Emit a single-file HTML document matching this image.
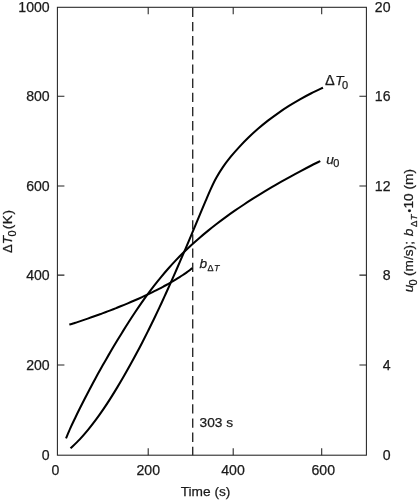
<!DOCTYPE html>
<html lang="en">
<head>
<meta charset="utf-8">
<title>Figure</title>
<style>
html,body{margin:0;padding:0;background:#fff;}
body{width:420px;height:500px;overflow:hidden;}
svg{display:block;}
text{font-family:"Liberation Sans",sans-serif;font-size:13.7px;fill:#1a1a1a;stroke:#1a1a1a;stroke-width:0.25;}
.i{font-style:italic;}
.tk{font-size:14.1px;}
.ax{stroke:#222;stroke-width:1.05;fill:none;}
.ds{stroke:#2b2b2b;stroke-width:1.4;fill:none;stroke-dasharray:9.3 4.86;stroke-dashoffset:-0.5;}
.cv{stroke:#000;stroke-width:2.05;fill:none;stroke-linecap:butt;stroke-linejoin:round;}
</style>
</head>
<body>
<svg width="420" height="500" viewBox="0 0 420 500">
<rect width="420" height="500" fill="#fff"/>
<rect class="ax" x="57.4" y="7.3" width="309.0" height="447.9"/>
<path class="ax" d="M57.4 365.0h7 M366.4 365.0h-7 M57.4 275.1h7 M366.4 275.1h-7 M57.4 186.0h7 M366.4 186.0h-7 M57.4 96.3h7 M366.4 96.3h-7 M148.2 455.2v-7 M148.2 7.3v7 M233.2 455.2v-7 M233.2 7.3v7 M321.7 455.2v-7 M321.7 7.3v7"/>
<path class="ds" d="M192.7 7.3V455.2"/>
<path class="cv" d="M69.30 324.60C69.93 324.43 71.82 323.93 73.06 323.56C74.30 323.18 75.50 322.75 76.72 322.35C77.94 321.94 79.16 321.53 80.38 321.12C81.60 320.71 82.82 320.29 84.04 319.87C85.27 319.45 86.49 319.03 87.71 318.61C88.93 318.18 90.15 317.75 91.38 317.32C92.60 316.89 93.82 316.46 95.04 316.02C96.26 315.58 97.48 315.14 98.70 314.70C99.92 314.25 101.15 313.81 102.36 313.35C103.58 312.90 104.80 312.45 106.02 311.99C107.24 311.53 108.45 311.07 109.67 310.60C110.89 310.14 112.10 309.67 113.31 309.20C114.53 308.72 115.74 308.25 116.95 307.77C118.16 307.28 119.37 306.80 120.57 306.31C121.78 305.82 122.99 305.33 124.19 304.84C125.39 304.34 126.59 303.84 127.79 303.34C128.99 302.83 130.19 302.32 131.38 301.81C132.58 301.30 133.77 300.78 134.96 300.26C136.15 299.74 137.34 299.22 138.52 298.69C139.71 298.16 140.89 297.62 142.07 297.09C143.25 296.55 144.42 296.01 145.60 295.46C146.77 294.91 147.94 294.36 149.11 293.81C150.27 293.25 151.44 292.69 152.59 292.12C153.75 291.56 154.91 290.99 156.06 290.41C157.21 289.83 158.36 289.25 159.51 288.66C160.65 288.06 161.79 287.47 162.93 286.86C164.07 286.26 165.20 285.64 166.33 285.02C167.46 284.40 168.58 283.77 169.70 283.13C170.82 282.50 171.93 281.85 173.04 281.19C174.15 280.54 175.26 279.87 176.36 279.19C177.46 278.52 178.55 277.83 179.64 277.13C180.73 276.44 181.82 275.73 182.90 275.01C183.98 274.29 185.05 273.56 186.12 272.81C187.19 272.07 188.28 271.34 189.31 270.54C190.34 269.74 191.80 268.42 192.30 268.00"/>
<path class="cv" d="M66.00 438.30C66.73 436.61 68.85 431.49 70.36 428.14C71.87 424.79 73.47 421.50 75.06 418.20C76.64 414.89 78.26 411.59 79.89 408.31C81.52 405.02 83.18 401.74 84.85 398.46C86.53 395.19 88.23 391.93 89.95 388.67C91.66 385.42 93.40 382.17 95.16 378.94C96.92 375.70 98.70 372.48 100.50 369.26C102.30 366.04 104.12 362.84 105.96 359.64C107.79 356.44 109.65 353.25 111.53 350.08C113.40 346.90 115.29 343.74 117.21 340.58C119.12 337.43 121.04 334.28 122.99 331.15C124.94 328.02 126.90 324.90 128.90 321.79C130.89 318.69 132.90 315.61 134.94 312.55C136.98 309.48 139.05 306.44 141.15 303.42C143.25 300.41 145.38 297.42 147.55 294.46C149.72 291.50 151.92 288.57 154.17 285.67C156.41 282.77 158.69 279.91 161.02 277.09C163.34 274.26 165.71 271.48 168.13 268.73C170.55 265.99 173.01 263.29 175.53 260.63C178.04 257.98 180.61 255.37 183.22 252.80C185.83 250.24 188.49 247.72 191.19 245.23C193.89 242.75 196.63 240.32 199.41 237.92C202.19 235.52 205.02 233.16 207.87 230.84C210.73 228.52 213.62 226.24 216.54 224.00C219.47 221.75 222.42 219.55 225.40 217.37C228.39 215.20 231.40 213.06 234.43 210.96C237.47 208.86 240.53 206.79 243.61 204.75C246.68 202.71 249.79 200.70 252.90 198.73C256.02 196.75 259.16 194.80 262.30 192.88C265.45 190.97 268.61 189.08 271.79 187.21C274.96 185.35 278.15 183.51 281.34 181.70C284.54 179.89 287.75 178.10 290.97 176.34C294.19 174.57 297.42 172.84 300.66 171.12C303.89 169.40 307.13 167.69 310.40 166.02C313.67 164.35 318.65 161.92 320.30 161.10"/>
<path class="cv" d="M70.50 448.30C72.04 446.81 76.79 442.45 79.74 439.34C82.69 436.24 85.49 432.96 88.22 429.65C90.95 426.34 93.58 422.93 96.14 419.48C98.70 416.03 101.16 412.50 103.58 408.94C106.00 405.38 108.34 401.76 110.64 398.12C112.95 394.48 115.20 390.81 117.41 387.13C119.63 383.45 121.81 379.74 123.95 376.03C126.10 372.31 128.21 368.58 130.28 364.84C132.36 361.09 134.41 357.33 136.42 353.55C138.44 349.78 140.42 345.99 142.38 342.18C144.34 338.38 146.27 334.56 148.18 330.73C150.09 326.89 151.98 323.05 153.84 319.19C155.70 315.33 157.54 311.46 159.36 307.58C161.19 303.70 162.99 299.80 164.77 295.90C166.56 291.99 168.33 288.07 170.09 284.15C171.85 280.22 173.59 276.28 175.32 272.33C177.05 268.38 178.77 264.43 180.48 260.46C182.20 256.49 183.90 252.51 185.60 248.53C187.30 244.54 188.99 240.55 190.67 236.56C192.35 232.58 194.03 228.58 195.70 224.61C197.37 220.64 199.03 216.67 200.69 212.72C202.34 208.78 203.97 204.84 205.63 200.95C207.28 197.05 208.86 193.17 210.61 189.35C212.37 185.53 214.12 181.74 216.17 178.03C218.22 174.33 220.46 170.68 222.89 167.12C225.33 163.56 228.04 160.08 230.78 156.70C233.53 153.32 236.43 150.03 239.38 146.83C242.32 143.64 245.37 140.54 248.47 137.54C251.58 134.54 254.76 131.64 258.00 128.83C261.25 126.02 264.56 123.30 267.94 120.67C271.32 118.04 274.76 115.51 278.26 113.05C281.76 110.60 285.33 108.24 288.94 105.96C292.56 103.67 296.24 101.48 299.97 99.36C303.70 97.23 307.48 95.17 311.32 93.23C315.16 91.29 321.05 88.62 323.00 87.70"/>
<text class="tk" x="49.7" y="460.3" text-anchor="end">0</text>
<text class="tk" x="49.7" y="370.1" text-anchor="end">200</text>
<text class="tk" x="49.7" y="280.2" text-anchor="end">400</text>
<text class="tk" x="49.7" y="191.1" text-anchor="end">600</text>
<text class="tk" x="49.7" y="101.4" text-anchor="end">800</text>
<text class="tk" x="49.7" y="12.4" text-anchor="end">1000</text>
<text class="tk" x="390.5" y="460.3" text-anchor="end">0</text>
<text class="tk" x="390.5" y="370.1" text-anchor="end">4</text>
<text class="tk" x="390.5" y="280.2" text-anchor="end">8</text>
<text class="tk" x="390.5" y="191.1" text-anchor="end">12</text>
<text class="tk" x="390.5" y="101.4" text-anchor="end">16</text>
<text class="tk" x="390.5" y="12.4" text-anchor="end">20</text>
<text class="tk" x="55.4" y="474.9" text-anchor="middle">0</text>
<text class="tk" x="148.3" y="474.9" text-anchor="middle">200</text>
<text class="tk" x="233.0" y="474.9" text-anchor="middle">400</text>
<text class="tk" x="323.3" y="474.9" text-anchor="middle">600</text>
<text x="180.7" y="496.4">Time (s)</text>
<text x="199.6" y="426.8">303 s</text>
<text x="325" y="85"><tspan font-size="14.6">Δ</tspan><tspan class="i" dx="0.4">T</tspan><tspan font-size="11" dy="3.7" dx="-1.5">0</tspan></text>
<text x="326.2" y="163.7"><tspan class="i">u</tspan><tspan font-size="11" dy="3.5" dx="-0.5">0</tspan></text>
<text x="199.6" y="267.5"><tspan class="i">b</tspan><tspan font-size="9" dy="3.8" dx="0.3">Δ</tspan><tspan class="i" font-size="9" dx="0.5">T</tspan></text>
<text transform="rotate(-90)"><tspan x="-253.00" y="12.00" font-size="13">Δ</tspan><tspan x="-244.20" y="12.00" class="i">T</tspan><tspan x="-236.60" y="15.60" font-size="11">0</tspan><tspan x="-229.30" y="12.00" letter-spacing="0.55">(K)</tspan></text>
<text transform="rotate(-90)"><tspan x="-292.30" y="413.00" class="i">u</tspan><tspan x="-285.60" y="416.80" font-size="11">0</tspan><tspan x="-276.00" y="413.00">(m/s);</tspan><tspan x="-236.20" y="413.00" class="i">b</tspan><tspan x="-227.10" y="417.00" font-size="9.5">Δ</tspan><tspan x="-220.20" y="417.00" class="i" font-size="9.5">T</tspan><tspan x="-212.50" y="412.90" font-size="10">•</tspan><tspan x="-208.60" y="413.00">10 (m)</tspan></text>
</svg>
</body>
</html>
